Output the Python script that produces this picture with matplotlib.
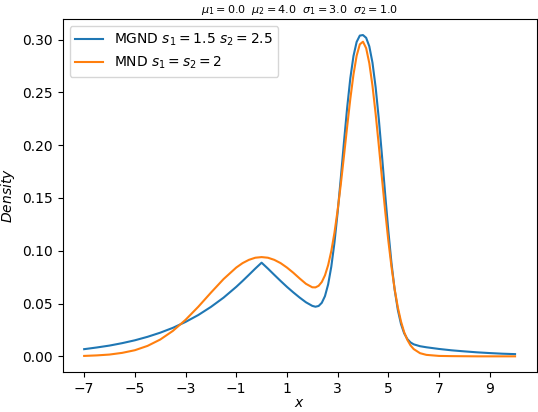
import matplotlib
matplotlib.use("Agg")
import matplotlib.pyplot as plt

# x positions (denser where the curves bend fast)
x = [-7, -6.5, -6, -5.5, -5, -4.5, -4, -3.5, -3, -2.5, -2, -1.5, -1,
     -0.75, -0.5, -0.25, 0, 0.25, 0.5, 0.75,
     1, 1.25, 1.5, 1.75, 2,
     2.125, 2.25, 2.375, 2.5, 2.625, 2.75, 2.875, 3, 3.125, 3.25, 3.375,
     3.5, 3.625, 3.75, 3.875, 4, 4.125, 4.25, 4.375, 4.5, 4.625, 4.75,
     4.875, 5, 5.125, 5.25, 5.375, 5.5, 5.625, 5.75, 5.875,
     6, 6.25, 6.5, 7, 7.5, 8, 8.5, 9, 9.5, 10]

# MGND  s1=1.5 s2=2.5
mgnd = [0.0068, 0.0084, 0.0102, 0.0125, 0.0152, 0.0185, 0.0224, 0.0270,
        0.0326, 0.0391, 0.0468, 0.0556, 0.0658,
        0.0714, 0.0772, 0.0831, 0.0887, 0.0831, 0.0772, 0.0714,
        0.0658, 0.0606, 0.0557, 0.0512, 0.0478,
        0.0470, 0.0477, 0.0507, 0.0570, 0.0681, 0.0849, 0.1078, 0.1363,
        0.1689, 0.2029, 0.2353, 0.2633, 0.2844, 0.2978, 0.3038, 0.3043,
        0.3017, 0.2936, 0.2781, 0.2547, 0.2247, 0.1900, 0.1538, 0.1190,
        0.0882, 0.0631, 0.0440, 0.0306, 0.0218, 0.0164, 0.0132,
        0.0114, 0.0096, 0.0086, 0.0070, 0.0057, 0.0047, 0.0038, 0.0031,
        0.0025, 0.0021]

# MND  s1=s2=2
mnd = [0.0004, 0.0009, 0.0017, 0.0033, 0.0058, 0.0099, 0.0159, 0.0241,
       0.0346, 0.0469, 0.0603, 0.0732, 0.0841,
       0.0883, 0.0914, 0.0934, 0.0940, 0.0934, 0.0914, 0.0883,
       0.0841, 0.0792, 0.0738, 0.0687, 0.0654,
       0.0653, 0.0668, 0.0704, 0.0767, 0.0863, 0.0997, 0.1171, 0.1384,
       0.1630, 0.1898, 0.2174, 0.2438, 0.2669, 0.2847, 0.2955, 0.2980,
       0.2919, 0.2776, 0.2563, 0.2296, 0.1996, 0.1684, 0.1379, 0.1096,
       0.0847, 0.0635, 0.0464, 0.0330, 0.0229, 0.0156, 0.0104,
       0.0069, 0.0030, 0.0014, 0.0004, 0.0002, 0.0001, 0.0000, 0.0000,
       0.0000, 0.0000]

assert len(x) == len(mgnd) == len(mnd)

xticks = [-7, -5, -3, -1, 1, 3, 5, 7, 9]
title = r"$\mu_1=0.0$  $\mu_2=4.0$  $\sigma_1=3.0$  $\sigma_2=1.0$"

fig = plt.figure(figsize=(5.38, 4.12), dpi=100)
ax = fig.add_axes([0.1164, 0.0961, 0.881, 0.8578])

ax.plot(x, mgnd, color="#1f77b4", lw=1.5, label=r"MGND $s_1=1.5$ $s_2=2.5$")
ax.plot(x, mnd, color="#ff7f0e", lw=1.5, label=r"MND $s_1=s_2=2$")

ax.set_xticks(xticks)
ax.set_xlabel(r"$x$", labelpad=0)
ax.set_ylabel(r"$Density$")
ax.set_title(title, fontsize=8, pad=4)
ax.legend(loc="upper left")

fig.savefig("out.png", dpi=100)
